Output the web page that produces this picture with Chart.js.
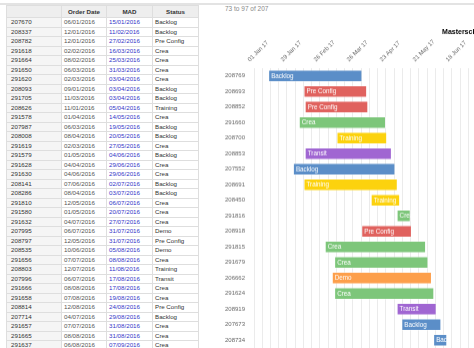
<!DOCTYPE html>
<html>
<head>
<meta charset="utf-8">
<script src="https://cdn.jsdelivr.net/npm/chart.js@4"></script>
<style>
  html, body { margin: 0; padding: 0; width: 474px; height: 348px; overflow: hidden; background: #fff; }
  body { position: relative; font-family: "Liberation Sans", Arial, sans-serif; }
  #topline { position: absolute; left: 0; top: 3px; width: 474px; height: 2px; background: #e3e3e3; }
  #pager { position: absolute; left: 225px; top: 5px; font-size: 6.5px; color: #888; }
  #grid { position: absolute; left: 6px; top: 5px; border-collapse: collapse; table-layout: fixed; font-size: 6.2px; color: #333; }
  #grid th, #grid td { border: 1px solid #dedede; padding: 0 0 0 2px; white-space: nowrap; overflow: hidden; }
  #grid th { height: 11px; background: #eeeeee; font-weight: bold; text-align: center; padding: 0; }
  #grid td { height: 8.5px; line-height: 8.5px; }
  #grid td.id { background: #f5f5f5; padding-left: 4px; }
  #grid td.mad { color: #3535c8; }
  #grid td.od { color: #555; }
  #chartBox { position: absolute; left: 212px; top: 20px; width: 513px; height: 339.6px; }
</style>
</head>
<body>
<div id="topline"></div>
<div id="pager">73 to 97 of 207</div>
<table id="grid">
  <colgroup><col style="width:55px"><col style="width:45px"><col style="width:46px"><col style="width:46px"></colgroup>
  <thead><tr><th></th><th>Order Date</th><th>MAD</th><th>Status</th></tr></thead>
  <tbody id="rows"></tbody>
</table>
<div id="chartBox"><canvas id="gantt"></canvas></div>
<script>
// 表格資料
const tableIds = ['207670','208337','208782','291618','291664','291650','291620','208093','291705','208626',
  '291578','207987','208008','291619','291579','291628','291630','208141','208286','291810',
  '291580','291632','207995','208797','208535','291656','208803','207996','291666','291658',
  '208814','207714','291657','291665','291637'];
const orderDates = ['06/01/2016','12/01/2016','12/01/2016','02/02/2016','08/02/2016','06/03/2016','02/03/2016','09/01/2016','11/03/2016','11/01/2016',
  '01/04/2016','06/03/2016','08/04/2016','02/03/2016','01/05/2016','04/04/2016','04/06/2016','07/06/2016','08/04/2016','12/05/2016',
  '01/05/2016','04/07/2016','06/07/2016','12/05/2016','10/06/2016','07/07/2016','12/07/2016','06/07/2016','08/08/2016','07/08/2016',
  '12/08/2016','04/07/2016','07/07/2016','08/08/2016','06/08/2016'];
const madDates = ['15/01/2016','11/02/2016','27/02/2016','16/03/2016','25/03/2016','31/03/2016','03/04/2016','03/04/2016','03/04/2016','05/04/2016',
  '14/05/2016','19/05/2016','20/05/2016','27/05/2016','04/06/2016','29/06/2016','29/06/2016','02/07/2016','03/07/2016','06/07/2016',
  '20/07/2016','27/07/2016','31/07/2016','31/07/2016','05/08/2016','08/08/2016','11/08/2016','17/08/2016','17/08/2016','19/08/2016',
  '24/08/2016','29/08/2016','31/08/2016','31/08/2016','07/09/2016'];
const tableStatus = ['Backlog','Backlog','Pre Config','Crea','Crea','Crea','Crea','Backlog','Backlog','Training',
  'Crea','Backlog','Backlog','Crea','Backlog','Crea','Crea','Backlog','Backlog','Crea',
  'Crea','Crea','Demo','Pre Config','Demo','Crea','Training','Transit','Crea','Crea',
  'Pre Config','Backlog','Crea','Crea','Crea'];

// 甘特圖資料
const taskIds = ['208769','208693','208852','291660','208700','208853','207552','208691','208450',
  '291816','208918','291815','291679','206662','291624','208919','207673','208734'];
const taskStatus = ['Backlog','Pre Config','Pre Config','Crea','Training','Transit','Backlog','Training','Training',
  'Crea','Pre Config','Crea','Crea','Demo','Crea','Transit','Backlog','Backlog'];
const taskStart = ['2017-01-13','2017-02-12','2017-02-13','2017-02-08','2017-03-12','2017-02-13','2017-02-03','2017-02-12','2017-04-10',
  '2017-05-02','2017-04-02','2017-03-02','2017-03-10','2017-03-08','2017-03-10','2017-05-02','2017-05-06','2017-06-02'];
const taskEnd = ['2017-04-03','2017-04-07','2017-04-08','2017-04-23','2017-04-24','2017-04-28','2017-05-01','2017-05-03','2017-05-05',
  '2017-05-14','2017-05-15','2017-05-27','2017-05-29','2017-06-01','2017-06-03','2017-06-05','2017-06-09','2017-06-14'];

const statusColors = {
  'Backlog': '#5b8ec8',
  'Pre Config': '#e0625e',
  'Crea': '#7dc67a',
  'Training': '#fcd20e',
  'Transit': '#a066d2',
  'Demo': '#fd9f4b'
};

// 建立表格
const tbody = document.getElementById('rows');
tableIds.forEach((id, i) => {
  const tr = document.createElement('tr');
  tr.innerHTML = `<td class="id">${id}</td><td class="od">${orderDates[i]}</td><td class="mad">${madDates[i]}</td><td>${tableStatus[i]}</td>`;
  tbody.appendChild(tr);
});

// 日期轉換：以 2017-01-01 為第 0 天
const ORIGIN = Date.UTC(2017, 0, 1);
const DAY = 86400000;
const MONTHS = ['Jan','Feb','Mar','Apr','May','Jun','Jul','Aug','Sep','Oct','Nov','Dec'];
function toDay(s) {
  const [y, m, d] = s.split('-').map(Number);
  return (Date.UTC(y, m - 1, d) - ORIGIN) / DAY;
}
function fmtDay(v) {
  const dt = new Date(ORIGIN + v * DAY);
  const dd = String(dt.getUTCDate()).padStart(2, '0');
  return `${dd} ${MONTHS[dt.getUTCMonth()]} ${String(dt.getUTCFullYear()).slice(2)}`;
}

const barData = taskIds.map((id, i) => [toDay(taskStart[i]), toDay(taskEnd[i])]);
const barColors = taskStatus.map(s => statusColors[s]);

// 在長條內寫狀態文字 (超出長條的部分裁掉)
const barLabels = {
  id: 'barLabels',
  afterDatasetsDraw(chart) {
    const c = chart.ctx;
    const meta = chart.getDatasetMeta(0);
    meta.data.forEach((bar, i) => {
      const p = bar.getProps(['x', 'y', 'base', 'height'], true);
      const left = Math.min(p.x, p.base), right = Math.max(p.x, p.base);
      c.save();
      c.beginPath();
      c.rect(left, p.y - p.height / 2, right - left, p.height);
      c.clip();
      c.fillStyle = '#fff';
      c.font = '6.3px "Liberation Sans", Arial, sans-serif';
      c.textBaseline = 'middle';
      c.textAlign = 'left';
      c.fillText(taskStatus[i], left + 3, p.y + 0.5);
      c.restore();
    });
  }
};

new Chart(document.getElementById('gantt'), {
  type: 'bar',
  data: {
    labels: taskIds,
    datasets: [{
      data: barData,
      backgroundColor: barColors,
      borderColor: 'rgba(255,255,255,0.35)',
      borderWidth: 1,
      borderSkipped: false,
      barPercentage: 0.8,
      categoryPercentage: 1.0
    }]
  },
  options: {
    indexAxis: 'y',
    responsive: true,
    maintainAspectRatio: false,
    animation: false,
    layout: { padding: 0 },
    plugins: {
      legend: { display: false },
      tooltip: { enabled: false },
      title: {
        display: true,
        text: 'Masterschedule',
        color: '#000',
        font: { family: '"Liberation Sans", Arial, sans-serif', size: 7, weight: 'bold', lineHeight: 1.2 },
        padding: { top: 8, bottom: 0 }
      }
    },
    scales: {
      x: {
        type: 'linear',
        position: 'top',
        min: 0,
        max: 395.4,
        border: { display: false },
        grid: { color: '#ebebeb', lineWidth: 1, drawTicks: false },
        ticks: {
          stepSize: 7,
          autoSkip: false,
          minRotation: 45,
          maxRotation: 45,
          padding: 5,
          color: '#666',
          font: { family: '"Liberation Sans", Arial, sans-serif', size: 6 },
          callback: (v) => (v % 28 === 0 ? fmtDay(v) : '')
        },
        afterFit: (axis) => { axis.height = 31.6; }
      },
      y: {
        border: { display: false },
        grid: { display: false, drawTicks: false },
        ticks: {
          padding: 9,
          color: '#666',
          font: { family: '"Liberation Sans", Arial, sans-serif', size: 6 }
        },
        afterFit: (axis) => { axis.width = 42; }
      }
    }
  },
  plugins: [barLabels]
});
</script>
</body>
</html>
